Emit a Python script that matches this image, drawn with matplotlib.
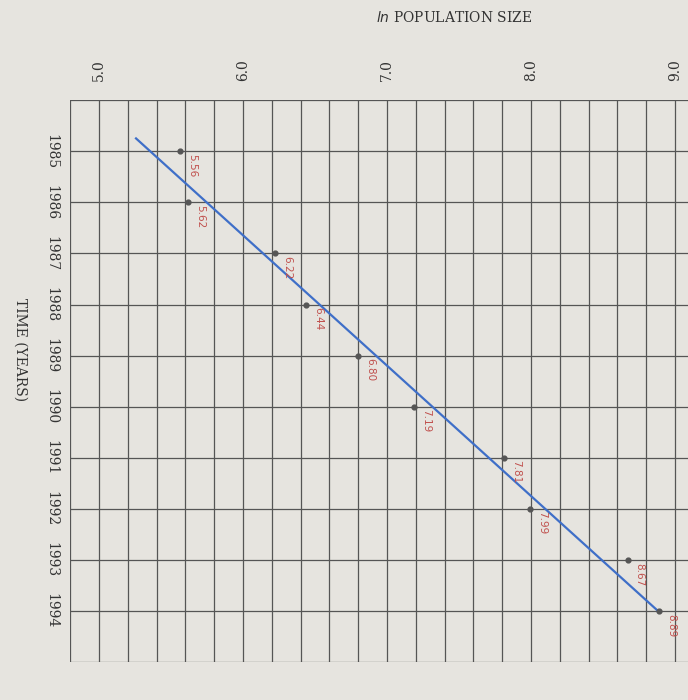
import numpy as np
import matplotlib.pyplot as plt

years = [1985, 1986, 1987, 1988, 1989, 1990, 1991, 1992, 1993, 1994]
ln_pop = [5.56, 5.62, 6.22, 6.44, 6.80, 7.19, 7.81, 7.99, 8.67, 8.89]
value_ticks = [5.0, 6.0, 7.0, 8.0, 9.0]

paper = '#e6e4df'
fig = plt.figure(figsize=(6.88, 7.0), dpi=100, facecolor=paper)
ax = fig.add_axes([0.102, 0.054, 0.898, 0.803])
ax.set_facecolor(paper)

# graph paper grid
for v in np.arange(4.8, 9.2, 0.2):
    ax.axvline(v, color='#555555', lw=0.9)
for yr in range(1984, 1996):
    ax.axhline(yr, color='#555555', lw=0.9)

# fitted line
k, b = np.polyfit(years, ln_pop, 1)
yy = np.array([1984.75, 1994.0])
ax.plot(k * yy + b, yy, color='#3f6fc8', lw=1.6)
ax.scatter(ln_pop, years, s=12, color='#555555', zorder=3)
for v, yr in zip(ln_pop, years):
    ax.text(v + 0.05, yr + 0.05, f'{v:.2f}', color='#c0504d', fontsize=7.5,
            rotation=-90, ha='left', va='top')

ax.set_xlim(4.8, 9.09)
ax.set_ylim(1995, 1984)
ax.set_xticks([])
ax.set_yticks([])
for s in ax.spines.values():
    s.set_visible(False)

for v in value_ticks:
    x = 0.102 + 0.898 * (v - 4.8) / (9.09 - 4.8)
    fig.text(x, 0.9, f'{v:.1f}', rotation=90, ha='center', va='center',
             fontsize=10, family='DejaVu Serif', color='#333333')
for yr in years:
    y = 0.054 + 0.803 * (1995 - yr) / 11
    fig.text(0.075, y, str(yr), rotation=-90, ha='center', va='center',
             fontsize=10, family='DejaVu Serif', color='#333333')
fig.text(0.03, 0.5, 'TIME (YEARS)', rotation=-90, ha='center', va='center',
         fontsize=10, family='DejaVu Serif', color='#333333')
fig.text(0.66, 0.975, '$\\it{ln}$ POPULATION SIZE', ha='center', va='center',
         fontsize=10, family='DejaVu Serif', color='#333333')

fig.savefig('out.png', dpi=100, facecolor=paper)
